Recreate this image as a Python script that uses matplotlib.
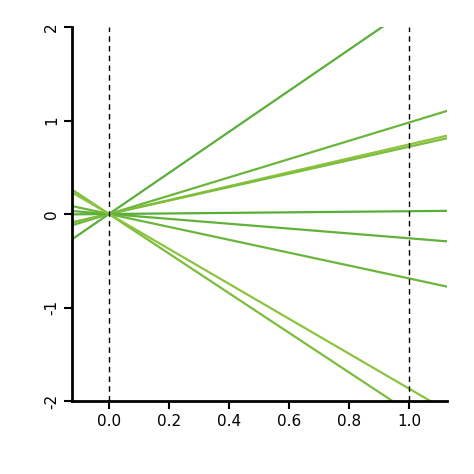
import matplotlib
matplotlib.use("Agg")
import matplotlib.pyplot as plt
import numpy as np

slopes = [2.2, 0.98, 0.745, 0.72, 0.03, -0.26, -0.69, -2.12, -1.87]
colors = ["#5aae3a", "#6ab63c", "#8cc43f", "#7dbd3c", "#5aae3a", "#62b23a", "#6ab63c", "#7dbd3c", "#8cc43f"]
xticks = [0.0, 0.2, 0.4, 0.6, 0.8, 1.0]
yticks = [-2, -1, 0, 1, 2]

fig = plt.figure(figsize=(4.74, 4.74), dpi=100)
ax = fig.add_axes([0.152, 0.154, 0.791, 0.789])
xmin, xmax = -0.123, 1.125
xs = np.array([xmin, xmax])
for s, c in zip(slopes, colors):
    ax.plot(xs, s * xs, color=c, lw=1.6)
for v in [0.0, 1.0]:
    ax.axvline(v, color="black", ls=(0, (4, 3)), lw=1)
ax.set_xlim(xmin, xmax)
ax.set_ylim(-2, 2)
ax.set_xticks(xticks)
ax.set_xticklabels([f"{t:.1f}" for t in xticks])
ax.set_yticks(yticks)
ax.set_yticklabels([str(t) for t in yticks], rotation=90, va="center")
for sp in ["top", "right"]:
    ax.spines[sp].set_visible(False)
for sp in ["left", "bottom"]:
    ax.spines[sp].set_linewidth(2)
ax.tick_params(width=1.5, length=6, labelsize=11)
fig.savefig("out.png", dpi=100)
